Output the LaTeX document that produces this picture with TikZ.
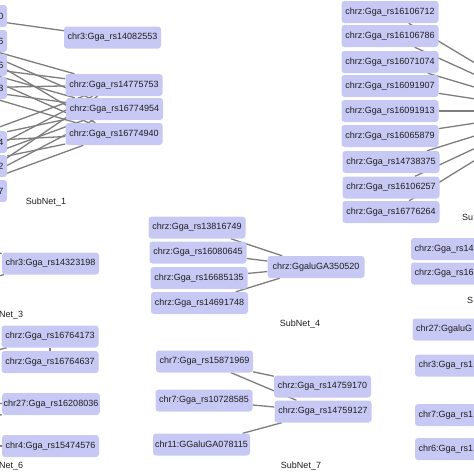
\documentclass[tikz,border=0pt]{standalone}
\usepackage{fontspec}
\setmainfont{Liberation Sans}
\usetikzlibrary{backgrounds}
\definecolor{snpfill}{RGB}{200,200,245}
\definecolor{edgegray}{RGB}{125,125,125}
\definecolor{labeltext}{RGB}{30,30,30}

\tikzset{
  snp/.style={fill=snpfill, rounded corners=3pt, minimum width=97pt, minimum height=22pt,
    inner xsep=1.5pt, inner ysep=0pt, font=\fontsize{9}{10}\selectfont, text=labeltext},
  cutleft/.style={snp, text width=90pt, align=right},
  cutright/.style={snp, text width=90pt, align=left},
  link/.style={draw=edgegray, line width=1.3pt},
  netname/.style={font=\fontsize{9}{10}\selectfont, text=labeltext, inner sep=0pt}
}

\begin{document}
\begin{tikzpicture}[x=1pt,y=-1pt]
\useasboundingbox (0,0) rectangle (474,474);
\clip (0,0) rectangle (474,474);

% SubNet_1
\node[cutleft] (lt1) at (-41.5,16) {0};
\node[cutleft] (lt2) at (-41.5,41) {6};
\node[cutleft] (lt3) at (-41.5,65) {6};
\node[cutleft] (lt4) at (-41.5,88) {3};
\node[cutleft] (lt5) at (-41.5,142) {4};
\node[cutleft] (lt6) at (-41.5,166) {2};
\node[cutleft] (lt7) at (-41.5,191) {7};

\node[snp] (rs14082553) at (112.5,37.5) {chr3:Gga\_rs14082553};
\node[snp] (rs14775753) at (114,85) {chrz:Gga\_rs14775753};
\node[snp] (rs16774954) at (114.5,109) {chrz:Gga\_rs16774954};
\node[snp] (rs16774940) at (114,134) {chrz:Gga\_rs16774940};
\node[netname] (net1) at (46,202) {SubNet\_1};

% SubNet_2, hub is off the right edge
\coordinate (hubtwo) at (555,111);
\node[snp] (rs16106712) at (390,12) {chrz:Gga\_rs16106712};
\node[snp] (rs16106786) at (390,36) {chrz:Gga\_rs16106786};
\node[snp] (rs16071074) at (390,62) {chrz:Gga\_rs16071074};
\node[snp] (rs16091907) at (390,86) {chrz:Gga\_rs16091907};
\node[snp] (rs16091913) at (390,111) {chrz:Gga\_rs16091913};
\node[snp] (rs16065879) at (390,136) {chrz:Gga\_rs16065879};
\node[snp] (rs14738375) at (391,162) {chrz:Gga\_rs14738375};
\node[snp] (rs16106257) at (391,187.5) {chrz:Gga\_rs16106257};
\node[snp] (rs16776264) at (391,212) {chrz:Gga\_rs16776264};
\node[netname, anchor=west] (net2) at (462,217) {Su};

% SubNet_3
\coordinate (offa) at (-60,241);
\coordinate (offb) at (-60,290);
\node[snp] (rs14323198) at (50.5,263.5) {chr3:Gga\_rs14323198};
\node[netname, anchor=west] (net3) at (-1,315) {Net\_3};

% SubNet_4
\node[snp] (rs13816749) at (197,227.5) {chrz:Gga\_rs13816749};
\node[snp] (rs16080645) at (198,252.5) {chrz:Gga\_rs16080645};
\node[snp] (rs16685135) at (199,278) {chrz:Gga\_rs16685135};
\node[snp] (rs14691748) at (199.5,303) {chrz:Gga\_rs14691748};
\node[snp] (ga350520) at (316,267) {chrz:GgaluGA350520};
\node[netname] (net4) at (300,324) {SubNet\_4};

% SubNet_5, cut at the right edge
\node[cutright] (rfive1) at (459.5,249) {chrz:Gga\_rs14};
\node[cutright] (rfive2) at (459.5,273.5) {chrz:Gga\_rs16};
\node[netname, anchor=west] (net5) at (467,300) {S};
\node[cutright] (rfive3) at (461,329.5) {chr27:GgaluG};
\node[cutright] (rfive4) at (463.5,365.5) {chr3:Gga\_rs1};
\node[cutright] (rfive5) at (463.5,415) {chr7:Gga\_rs1};
\node[cutright] (rfive6) at (463.5,449) {chr6:Gga\_rs1};

% SubNet_6
\coordinate (offc) at (-60,365);
\coordinate (offd) at (-60,403);
\coordinate (offe) at (-60,428);
\coordinate (offf) at (-60,446);
\node[snp] (rs16764173) at (50,336.5) {chrz:Gga\_rs16764173};
\node[snp] (rs16764637) at (50,362) {chrz:Gga\_rs16764637};
\node[snp] (rs16208036) at (51,404) {chr27:Gga\_rs16208036};
\node[snp] (rs15474576) at (50.5,446) {chr4:Gga\_rs15474576};
\node[netname, anchor=west] (net6) at (-1,466) {Net\_6};

% SubNet_7
\node[snp] (rs15871969) at (204.5,361.5) {chr7:Gga\_rs15871969};
\node[snp] (rs10728585) at (204,400.5) {chr7:Gga\_rs10728585};
\node[snp] (ga078115) at (201.5,444.5) {chr11:GGaluGA078115};
\node[snp] (rs14759170) at (322.5,386.5) {chrz:Gga\_rs14759170};
\node[snp] (rs14759127) at (323,411.5) {chrz:Gga\_rs14759127};
\node[netname] (net7) at (301,466) {SubNet\_7};

% links, behind the boxes
\begin{scope}[on background layer]
\clip (0,0) rectangle (474,474);
\draw[link] (lt1) -- (rs14082553);
\foreach \a in {lt2,lt3,lt4,lt5,lt6,lt7}
  \foreach \b in {rs14775753,rs16774954,rs16774940}
    \draw[link] (\a) -- (\b);

\foreach \b in {rs16106712,rs16106786,rs16071074,rs16091907,rs16091913,rs16065879,rs14738375,rs16106257,rs16776264}
  \draw[link] (hubtwo) -- (\b);

\draw[link] (offa) -- (rs14323198);
\draw[link] (offb) -- (rs14323198);

\foreach \a in {rs13816749,rs16080645,rs16685135,rs14691748}
  \draw[link] (\a) -- (ga350520);

\draw[link] (offc) -- (rs16764173);
\draw[link] (rs16764173) -- (rs16764637);
\draw[link] (offd) -- (rs16208036);
\draw[link] (offe) -- (rs16208036);
\draw[link] (offf) -- (rs15474576);

\draw[link] (rs15871969) -- (rs14759170);
\draw[link] (rs15871969) -- (rs14759127);
\draw[link] (rs10728585) -- (rs14759127);
\draw[link] (ga078115) -- (rs14759127);
\end{scope}
\end{tikzpicture}
\end{document}
